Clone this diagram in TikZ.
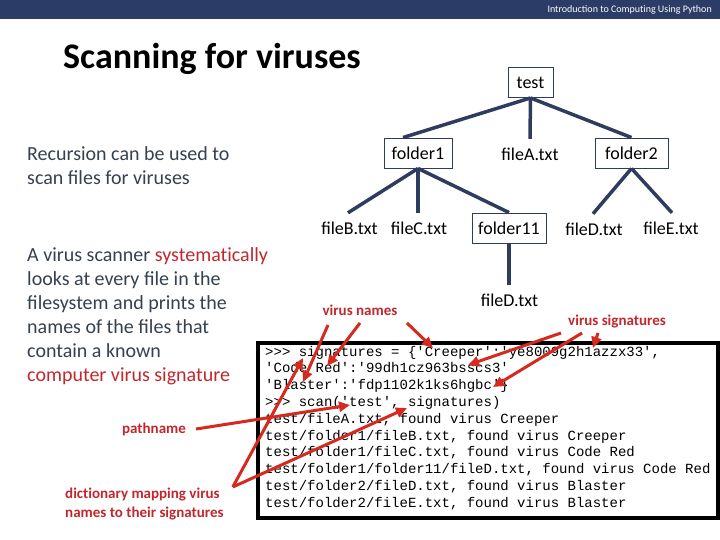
\documentclass[tikz,border=0pt]{standalone}
\usepackage{fontspec}
\setmainfont{Carlito}
\newfontfamily\codefont{Liberation Mono}
\usetikzlibrary{arrows.meta}
\definecolor{banner}{HTML}{2B3C66}
\definecolor{navy}{HTML}{2E3D5F}
\definecolor{slate}{HTML}{36414F}
\definecolor{hired}{HTML}{C0282E}
\definecolor{arrowred}{HTML}{D42A20}
\begin{document}
\begin{tikzpicture}[x=1pt,y=-1pt,
  txt/.style={inner sep=0pt, anchor=base west},
  body/.style={txt, text=slate, font=\fontsize{20}{24}\selectfont},
  treebox/.style={draw=navy, line width=0.9pt, inner sep=0pt, minimum height=30pt, font=\fontsize{18}{20}\selectfont},
  treefile/.style={inner sep=0pt, minimum height=30pt, font=\fontsize{18}{20}\selectfont},
  treeline/.style={draw=navy, line width=3.5pt},
  codeline/.style={txt, font=\codefont\fontsize{14}{16.8}\selectfont},
  redlabel/.style={inner sep=0pt, text=hired, font=\fontsize{15}{19}\selectfont\bfseries},
  redarrow/.style={draw=arrowred, line width=3pt, -{Triangle[length=11pt,width=10pt]}}
]
\useasboundingbox (0,0) rectangle (720,540);
\fill[white] (0,0) rectangle (720,540);
% banner
\fill[banner] (0,0) rectangle (720,19);
\node[inner sep=0pt, anchor=east, text=white, font=\fontsize{10}{12}\selectfont] (hdr) at (712,10) {Introduction to Comput\kern0pt ing Using Python};
% title
\node[txt, font=\fontsize{36}{40}\selectfont\bfseries] (title) at (63,69) {Scanning for viruses};
% left texts
\node[body] (rec1) at (27,161) {Recursion can be used to};
\node[body] (rec2) at (27,185) {scan files for viruses};
\node[body] (p1) at (27,261) {A virus scanner \textcolor{hired}{systemat\kern0pt ically}};
\node[body] (p2) at (27,285) {looks at every file in the};
\node[body] (p3) at (27,309) {filesystem and prints the};
\node[body] (p4) at (27,333) {names of the files that};
\node[body] (p5) at (27,357) {contain a known};
\node[body, text=hired] (p6) at (27,381) {computer virus signature};
% tree
\node[treebox, minimum width=45pt] (test) at (530.5,82.5) {test};
\node[treebox, minimum width=68pt] (folder1) at (418,153) {folder1};
\node[treefile] (fileA) at (530,154) {fileA.txt};
\node[treebox, minimum width=73pt] (folder2) at (631.5,153) {folder2};
\node[treefile] (fileB) at (349.5,228) {fileB.txt};
\node[treefile] (fileC) at (419,228) {fileC.txt};
\node[treebox, minimum width=74pt] (folder11) at (509,228) {folder11};
\node[treefile] (fileD) at (594,229) {fileD.txt};
\node[treefile] (fileE) at (671,228) {fileE.txt};
\node[treefile] (fileDD) at (509.5,300) {fileD.txt};
\draw[treeline] (test.south) -- ([xshift=-15pt]folder1.north);
\draw[treeline] (test.south) -- (fileA.north);
\draw[treeline] (test.south) -- (folder2.north);
\draw[treeline] (folder1.south) -- ([xshift=-1.5pt]fileB.north);
\draw[treeline] (folder1.south) -- ([xshift=-1pt]fileC.north);
\draw[treeline] (folder1.south) -- (folder11.north);
\draw[treeline] (folder2.south) -- ([xshift=-1pt]fileD.north);
\draw[treeline] (folder2.south) -- ([xshift=1pt]fileE.north);
\draw[treeline] (folder11.south) -- ([xshift=-0.5pt]fileDD.north);
% code box
\node[draw=black, line width=4pt, fill=white, inner sep=0pt, anchor=north west, minimum width=460pt, minimum height=175pt] (codebox) at (256,341) {};
\node[codeline] (c1) at (265,356.0) {>>> signatures = \{'Creeper':'ye8009g2h1azzx33',};
\node[codeline] (c2) at (265,372.8) {'Code Red':'99dh1cz963bsscs3'};
\node[codeline] (c3) at (265,389.6) {'Blaster':'fdp1102k1ks6hgbc'\}};
\node[codeline] (c4) at (265,406.4) {>>> scan('test', signatures)};
\node[codeline] (c5) at (265,423.2) {test/fileA.txt, found virus Creeper};
\node[codeline] (c6) at (265,440.0) {test/folder1/fileB.txt, found virus Creeper};
\node[codeline] (c7) at (265,456.8) {test/folder1/fileC.txt, found virus Code Red};
\node[codeline] (c8) at (265,473.6) {test/folder1/folder11/fileD.txt, found virus Code Red};
\node[codeline] (c9) at (265,490.4) {test/folder2/fileD.txt, found virus Blaster};
\node[codeline] (c10) at (265,507.2) {test/folder2/fileE.txt, found virus Blaster};
% red labels
\node[redlabel] (vnames) at (360,310) {virus names};
\node[redlabel] (vsigs) at (617,322) {virus signatures};
\node[redlabel] (pathname) at (154,429) {pathname};
\node[redlabel, anchor=base west] (dict1) at (65,498) {dict\kern0pt ionary mapping virus};
\node[redlabel, anchor=base west] (dict2) at (65,517) {names to their signatures};
% arrow targets
\coordinate (tBlaster) at (303,382);
\coordinate (tCodeRed) at (327,366);
\coordinate (tCreeper) at (433,348);
\coordinate (tSig1) at (468,365);
\coordinate (tSig2) at (493,387);
\coordinate (tSig0) at (593,348);
\coordinate (tTest) at (350,405);
\coordinate (tSigVar) at (303,358);
\coordinate (tSigArg) at (407,408);
% arrows
\draw[redarrow] ([xshift=-32pt,yshift=-15pt]vnames.center) -- (tBlaster);
\draw[redarrow] ([xshift=0pt,yshift=-13pt]vnames.center) -- (tCodeRed);
\draw[redarrow] ([xshift=47pt,yshift=-13pt]vnames.center) -- (tCreeper);
\draw[redarrow] ([xshift=-56pt,yshift=-11pt]vsigs.center) -- (tSig1);
\draw[redarrow] ([xshift=-35pt,yshift=-11pt]vsigs.center) -- (tSig2);
\draw[redarrow] ([xshift=-19pt,yshift=-11pt]vsigs.center) -- (tSig0);
\draw[redarrow] ([xshift=10pt]pathname.east) -- (tTest);
\draw[redarrow] ([xshift=13pt,yshift=11pt]dict1.base east) -- (tSigVar);
\draw[redarrow] ([xshift=13pt,yshift=11pt]dict1.base east) -- (tSigArg);
\end{tikzpicture}
\end{document}
